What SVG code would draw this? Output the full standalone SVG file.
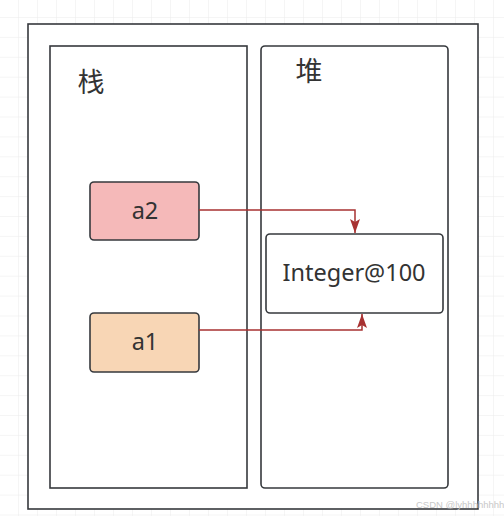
<svg xmlns="http://www.w3.org/2000/svg" width="504" height="516" viewBox="0 0 504 516">
<defs>
<pattern id="grid" x="18" y="17" width="19" height="19.9" patternUnits="userSpaceOnUse">
<path d="M0 0V19.9M0 0H19" fill="none" stroke="#ececec" stroke-width="1"/>
</pattern>
<marker id="arr" viewBox="0 0 14 10" refX="14" refY="5" markerWidth="14" markerHeight="10" markerUnits="userSpaceOnUse" orient="auto">
<path d="M0 0L14 5L0 10L3 5Z" fill="#a83232"/>
</marker>
<style>
.box{fill:#fff;stroke:#36393d;stroke-width:1.6}
.t{font-family:"Noto Sans","Noto Sans CJK SC",sans-serif;fill:#333;text-anchor:middle;dominant-baseline:central}
.edge{fill:none;stroke:#a83232;stroke-width:1.5}
</style>
</defs>
<rect width="504" height="516" fill="#fff"/>
<rect width="504" height="516" fill="url(#grid)"/>
<g id="outer"><rect class="box" x="28" y="24" width="450" height="485"/></g>
<g id="stack"><rect class="box" x="50" y="46" width="197" height="442"/><text class="t" x="91" y="81" font-size="27">栈</text></g>
<g id="heap"><rect class="box" x="261" y="46" width="187" height="442" rx="4"/><text class="t" x="309" y="70" font-size="27">堆</text></g>
<g id="a2"><rect x="90" y="182" width="109" height="58" rx="4" fill="#f5b9b9" stroke="#36393d" stroke-width="1.6"/><text class="t" x="145" y="210" font-size="23.5">a2</text></g>
<g id="a1"><rect x="90" y="313" width="109" height="59" rx="4" fill="#f8d6b5" stroke="#36393d" stroke-width="1.6"/><text class="t" x="145" y="341" font-size="23.5">a1</text></g>
<g id="integer"><rect class="box" x="266" y="234" width="177" height="79" rx="4"/><text class="t" x="354" y="272" font-size="23.5">Integer@100</text></g>
<g id="connectors">
<path class="edge" d="M199 210H355V233" marker-end="url(#arr)"/>
<path class="edge" d="M199 330H362V314" marker-end="url(#arr)"/>
</g>
<text x="416" y="508" font-family="Liberation Sans,sans-serif" font-size="9.5" fill="#c8c8c8">CSDN @lyhhhhhhhh</text>
</svg>
